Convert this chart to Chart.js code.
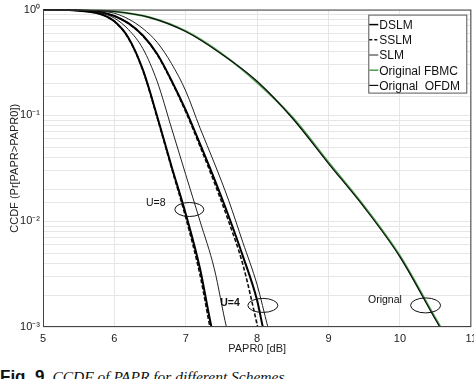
<!DOCTYPE html>
<html>
<head>
<meta charset="utf-8">
<script src="https://cdn.jsdelivr.net/npm/chart.js@4.4.0/dist/chart.umd.min.js"></script>
<style>
  body { margin: 0; background: #fff; overflow: hidden; width: 474px; height: 379px; position: relative; }
  #wrap { position: absolute; left: 0; top: 0; width: 482px; height: 360px; }
  #caption { position: absolute; left: 0px; top: 368px; font-size: 15.5px; white-space: nowrap; color: #111; line-height: 18px; }
  #caption b { font-family: 'Liberation Sans', Arial, sans-serif; font-size: 17px; }
  #caption i { font-family: 'Liberation Serif', 'Times New Roman', serif; margin-left: 8px; }
</style>
</head>
<body>
<div id="wrap"><canvas id="myChart"></canvas></div>
<div id="caption"><b>Fig. 9</b><i>CCDF of PAPR for different Schemes</i></div>
<script>
// valeurs (PAPR0 en dB, CCDF)
const paprOrig = [5, 5.5, 6, 6.5, 7, 7.5, 8, 8.5, 9, 9.5, 10, 10.5, 10.62];
const ccdfOFDM = [1, 0.993, 0.96, 0.84, 0.62, 0.38, 0.21, 0.093, 0.035, 0.0135, 0.0046, 0.00117, 0.00085];
const ccdfFBMC = [1, 0.993, 0.96, 0.842, 0.625, 0.385, 0.205, 0.095, 0.036, 0.0138, 0.0047, 0.0012, 0.00087];

// U = 8
const paprU8 = [5, 5.5, 5.8, 6, 6.2, 6.4, 6.6, 6.8, 7, 7.2, 7.36, 7.4];
const dslmU8 = [1, 0.977, 0.91, 0.776, 0.537, 0.269, 0.0977, 0.0331, 0.0117, 0.00355, 0.001, 0.00078];
const sslmU8 = [1, 0.977, 0.908, 0.772, 0.532, 0.265, 0.095, 0.032, 0.0108, 0.0031, 0.00085, 0.00066];
const paprSlmU8 = [5, 5.5, 5.8, 6, 6.2, 6.4, 6.6, 6.8, 7, 7.2, 7.4, 7.57, 7.6];
const slmU8 = [1, 0.982, 0.933, 0.83, 0.645, 0.427, 0.209, 0.076, 0.0275, 0.01, 0.00355, 0.001, 0.00085];

// U = 4
const paprU4 = [5, 5.5, 5.8, 6, 6.2, 6.4, 6.6, 6.8, 7, 7.2, 7.4, 7.6, 7.8, 8, 8.08, 8.12];
const dslmU4 = [1, 0.986, 0.944, 0.871, 0.741, 0.569, 0.38, 0.214, 0.112, 0.0537, 0.0251, 0.0112, 0.00468, 0.00178, 0.001, 0.00079];
const sslmU4 = [1, 0.986, 0.943, 0.868, 0.737, 0.563, 0.375, 0.21, 0.108, 0.051, 0.0232, 0.0100, 0.0039, 0.00105, 0.0006, 0.0005];
const paprSlmU4 = [5, 5.5, 5.8, 6, 6.2, 6.4, 6.6, 6.8, 7, 7.2, 7.4, 7.6, 7.8, 8, 8.15, 8.2];
const slmU4 = [1, 0.991, 0.966, 0.923, 0.813, 0.661, 0.49, 0.309, 0.17, 0.0759, 0.0355, 0.0158, 0.0063, 0.0025, 0.001, 0.00075];

const xTicks = [5, 6, 7, 8, 9, 10, 11];
const yTickLabels = { 1: '10\u2070', 0.1: '10\u207B\u00B9', 0.01: '10\u207B\u00B2', 0.001: '10\u207B\u00B3' };

// annotations en coordonnées des données
const notes = [
    { text: 'U=8', x: 6.58, y: 0.0148, bold: false, ex: 7.05, ey: 0.0129, rx: 14.5, ry: 7 },
    { text: 'U=4', x: 7.62, y: 0.0017, bold: true, ex: 8.08, ey: 0.0016, rx: 15, ry: 7 },
    { text: 'Orignal', x: 9.79, y: 0.00178, bold: false, ex: 10.36, ey: 0.0016, rx: 15, ry: 7.5 }
];

const font = "'Liberation Sans', Arial, sans-serif";

function pts(xs, ys) {
    return xs.map((x, i) => ({ x: x, y: ys[i] }));
}

function ds(label, xs, ys, color, width, dash, legend, order) {
    return {
        label: label,
        data: pts(xs, ys),
        borderColor: color,
        borderWidth: width,
        borderDash: dash,
        pointRadius: 0,
        fill: false,
        cubicInterpolationMode: 'monotone',
        showInLegend: legend,
        order: order
    };
}

const datasets = [
    ds('DSLM', paprU8, dslmU8, '#000', 2, [], true, 1),
    ds('SSLM', paprU8, sslmU8, '#111', 1.6, [4, 2], true, 1),
    ds('SLM', paprSlmU8, slmU8, '#222', 1, [], true, 1),
    ds('Original FBMC', paprOrig, ccdfFBMC, '#4a9e4a', 2, [], true, 2),
    ds('Orignal  OFDM', paprOrig, ccdfOFDM, '#111', 1.2, [], true, 1),
    ds('DSLM U4', paprU4, dslmU4, '#000', 2, [], false, 1),
    ds('SSLM U4', paprU4, sslmU4, '#111', 1.6, [4, 2], false, 1),
    ds('SLM U4', paprSlmU4, slmU4, '#222', 1, [], false, 1)
];

// cadre, légende et annotations
const decor = {
    id: 'decor',
    afterDatasetsDraw(chart) {
        const ctx = chart.ctx;
        const a = chart.chartArea;
        const xs = chart.scales.x, ys = chart.scales.y;
        ctx.save();
        ctx.strokeStyle = '#444';
        ctx.lineWidth = 1;
        ctx.strokeRect(a.left + 0.5, a.top + 0.5, a.right - a.left - 1, a.bottom - a.top - 1);

        // annotations
        notes.forEach(n => {
            ctx.fillStyle = '#111';
            ctx.font = (n.bold ? 'bold ' : '') + '10.5px ' + font;
            ctx.textAlign = 'center';
            ctx.textBaseline = 'middle';
            ctx.fillText(n.text, xs.getPixelForValue(n.x), ys.getPixelForValue(n.y));
            ctx.beginPath();
            ctx.ellipse(xs.getPixelForValue(n.ex), ys.getPixelForValue(n.ey), n.rx, n.ry, 0, 0, Math.PI * 2);
            ctx.strokeStyle = '#111';
            ctx.lineWidth = 1;
            ctx.stroke();
        });

        // légende
        const items = chart.data.datasets.filter(d => d.showInLegend);
        const bx = a.right - 103, by = a.top + 5, bw = 98, bh = 78;
        ctx.fillStyle = '#fff';
        ctx.fillRect(bx, by, bw, bh);
        ctx.strokeStyle = '#555';
        ctx.lineWidth = 1;
        ctx.strokeRect(bx + 0.5, by + 0.5, bw, bh);
        ctx.font = '12px ' + font;
        ctx.textAlign = 'left';
        ctx.textBaseline = 'middle';
        items.forEach((d, i) => {
            const yy = by + 10 + i * 15.2;
            ctx.beginPath();
            ctx.strokeStyle = d.borderColor;
            ctx.lineWidth = Math.min(d.borderWidth, 1.5);
            ctx.setLineDash(d.borderDash.length ? [3, 2] : []);
            ctx.moveTo(bx + 1, yy);
            ctx.lineTo(bx + 10, yy);
            ctx.stroke();
            ctx.setLineDash([]);
            ctx.fillStyle = '#111';
            ctx.fillText(d.label, bx + 11, yy + 1);
        });
        ctx.restore();
    }
};

let ctx = document.getElementById('myChart').getContext('2d');
let myChart = new Chart(ctx, {
    type: 'line',
    data: { datasets: datasets },
    options: {
        responsive: true,
        maintainAspectRatio: false,
        animation: false,
        layout: { padding: { top: 5, left: 8, right: 0, bottom: 0 } },
        plugins: { legend: { display: false }, tooltip: { enabled: false } },
        scales: {
            x: {
                type: 'linear',
                min: 5,
                max: 11,
                afterBuildTicks: s => { s.ticks = xTicks.map(v => ({ value: v })); },
                ticks: { font: { family: font, size: 11 }, color: '#222', padding: 5 },
                grid: { color: '#e6e6e6', drawTicks: false },
                border: { display: false },
                title: { display: true, text: 'PAPR0 [dB]', font: { family: font, size: 11 }, color: '#222', padding: { top: 4 } },
                afterFit: s => { s.height = 33; }
            },
            y: {
                type: 'logarithmic',
                min: 0.001,
                max: 1,
                ticks: {
                    autoSkip: false,
                    font: { family: font, size: 11 },
                    color: '#222',
                    padding: 3,
                    callback: v => yTickLabels[v] || ''
                },
                grid: { color: '#e6e6e6', drawTicks: false },
                border: { display: false },
                title: { display: true, text: 'CCDF (Pr[PAPR>PAPR0])', font: { family: font, size: 11 }, color: '#222', padding: 0 },
                afterFit: s => { s.width = 35; }
            }
        }
    },
    plugins: [decor]
});
</script>
</body>
</html>
